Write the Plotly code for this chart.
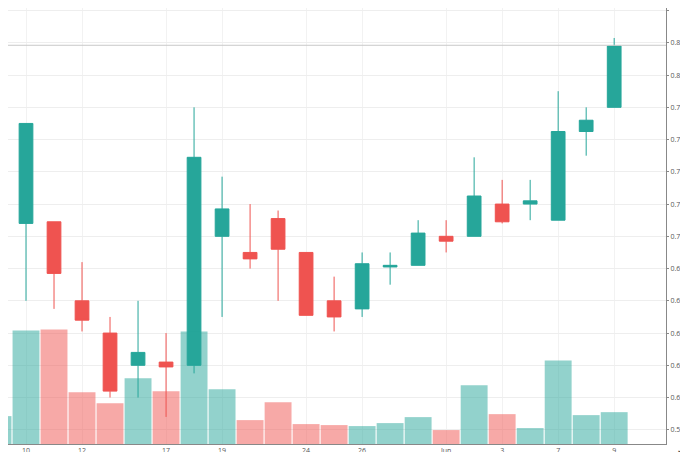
import plotly.graph_objects as go

# trading-day index positions and OHLC
idx = list(range(-1, 22))
opens = [0.655, 0.708, 0.709, 0.660, 0.640, 0.620, 0.622, 0.620, 0.700, 0.690, 0.711, 0.690,
         0.660, 0.655, 0.681, 0.682, 0.700, 0.700, 0.720, 0.720, 0.710, 0.765, 0.780]
highs = [0.690, 0.770, 0.709, 0.684, 0.650, 0.660, 0.640, 0.780, 0.737, 0.720, 0.716, 0.690,
         0.675, 0.690, 0.690, 0.710, 0.710, 0.749, 0.735, 0.735, 0.790, 0.780, 0.823]
lows = [0.650, 0.660, 0.655, 0.641, 0.600, 0.600, 0.588, 0.615, 0.650, 0.680, 0.660, 0.651,
        0.641, 0.650, 0.670, 0.682, 0.690, 0.700, 0.708, 0.710, 0.710, 0.750, 0.780]
closes = [0.680, 0.770, 0.677, 0.648, 0.604, 0.628, 0.619, 0.749, 0.717, 0.686, 0.692, 0.651,
          0.650, 0.683, 0.682, 0.702, 0.697, 0.725, 0.709, 0.722, 0.765, 0.772, 0.818]
volumes = [28, 114, 115, 52, 41, 66, 53, 113, 55, 24, 42, 20, 19, 18, 21, 27, 14, 59, 30,
           16, 84, 29, 32]
tick_pos = [0, 2, 5, 7, 10, 12, 15, 17, 19, 21]
tick_text = ["10", "12", "17", "19", "24", "26", "Jun", "3", "7", "9"]
last_price = 0.8185

UP, DOWN = "#26a69a", "#ef5350"
vol_colors = ["rgba(38,166,154,0.5)" if c >= o else "rgba(239,83,80,0.5)"
              for o, c in zip(opens, closes)]

fig = go.Figure()
fig.add_trace(go.Bar(x=idx, y=volumes, marker=dict(color=vol_colors, line=dict(width=0)),
                     yaxis="y2", showlegend=False, hoverinfo="skip"))
fig.add_trace(go.Candlestick(
    x=idx, open=opens, high=highs, low=lows, close=closes,
    increasing=dict(line=dict(color=UP, width=1), fillcolor=UP),
    decreasing=dict(line=dict(color=DOWN, width=1), fillcolor=DOWN),
    whiskerwidth=0, showlegend=False,
))
fig.add_hline(y=last_price, line=dict(color="#c8c8c8", width=1))

fig.update_layout(
    width=688, height=452,
    margin=dict(l=0, r=30, t=0, b=16),
    plot_bgcolor="white", paper_bgcolor="white",
    font=dict(family="Open Sans", size=7, color="#555"),
    bargap=0.04,
    xaxis=dict(range=[-0.643, 22.85], tickvals=tick_pos, ticktext=tick_text,
               showgrid=True, gridcolor="#f2f2f2", rangeslider=dict(visible=False),
               showline=True, linecolor="#888", ticks="", tickfont=dict(size=7)),
    yaxis=dict(side="right", range=[0.5712, 0.8416], dtick=0.02, tickformat=".4f",
               showgrid=True, gridcolor="#eeeeee", showline=True, linecolor="#888",
               ticks="outside", ticklen=2, tickcolor="#888", tickfont=dict(size=7),
               ticklabelstandoff=0, zeroline=False),
    yaxis2=dict(overlaying="y", range=[0, 438], visible=False),
)
fig.add_annotation(x=1, xref="paper", xanchor="left", xshift=8, y=0, yref="paper",
                   yanchor="top", text="⚙", showarrow=False, font=dict(size=11, color="#555"))

fig.write_html("out.html")
